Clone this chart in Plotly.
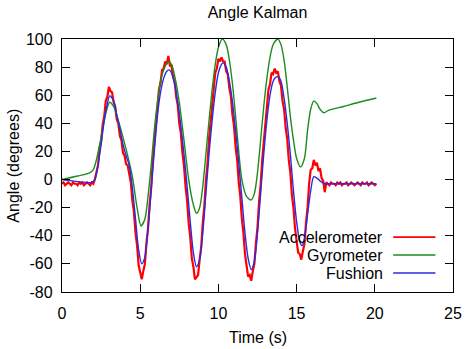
import plotly.graph_objects as go

# ---------------- data ----------------
title_text = "Angle Kalman"
series_names = ["Accelerometer", "Gyrometer", "Fushion"]

# Accelerometer (noisy), sampled every 0.1 s starting at t = 0
acc_step = 0.1
acc_v = [
    -3, -2, -4, -3, -2, -3, -4, -2, -3, -3, -4, -2, -3, -2, -4, -3, -2, -3, -4, -2, -3,   # 0.0-2.0
    0, 6, 10, 22, 27, 39, 45, 56, 59,                                                     # 2.1-2.9
    66, 63, 62, 55, 52, 43, 40, 31, 28, 19,                                               # 3.0-3.9
    17, 11, 10, 3, -2, -15, -23, -38, -47, -61,                                           # 4.0-4.9
    -66, -71, -65, -60, -45, -35, -18, -6, 13, 25,                                        # 5.0-5.9
    42, 51, 64, 69, 78, 79, 84, 82, 88, 81,                                               # 6.0-6.9
    81, 73, 70, 59, 53, 40, 33, 19, 10, -5,                                               # 7.0-7.9
    -15, -31, -41, -56, -62, -71, -69, -68, -57, -48,                                     # 8.0-8.9
    -31, -19, -1, 11, 29, 40, 56, 64, 76, 79,                                             # 9.0-9.9
    86, 84, 87, 84, 84, 77, 75, 65, 59, 46,                                               # 10.0-10.9
    38, 23, 14, -2, -12, -28, -38, -53, -60, -69,                                         # 11.0-11.9
    -68, -72, -65, -60, -45, -34, -16, -4, 14, 26,                                        # 12.0-12.9
    43, 51, 64, 68, 76, 75, 79, 76, 77, 70,                                               # 13.0-13.9
    67, 56, 50, 37, 29, 14, 5, -11, -20, -35,                                             # 14.0-14.9
    -42, -52, -53, -57, -51, -46, -31, -20, -3, 7,                                        # 15.0-15.9
    8, 14, 10, 12, 6, 8, 1, -1, -9, -2,                                                   # 16.0-16.9
    -3, -4, -2, -3, -3, -4, -2, -3, -2, -4,                                               # 17.0-17.9
    -3, -3, -2, -4, -3, -2, -3, -4, -3, -2,                                               # 18.0-18.9
    -3, -4, -2, -3, -3, -2, -4, -3, -2, -3,                                               # 19.0-19.9
    -4, -3,                                                                               # 20.0-20.1
]
acc_t = [round(i * acc_step, 1) for i in range(len(acc_v))]

# Gyrometer (integrated, drifting)
gyro_t = [0.0, 1.0, 1.8, 2.0, 2.2, 2.5, 2.8, 3.05, 3.3, 3.6, 3.9, 4.2, 4.5, 4.8, 5.05,
          5.3, 5.5, 5.7, 5.9, 6.1, 6.3, 6.5, 6.8, 7.0, 7.2, 7.5, 7.8, 8.1, 8.4, 8.6,
          8.8, 9.0, 9.2, 9.4, 9.6, 9.8, 10.0, 10.25, 10.5, 10.7, 10.9, 11.1, 11.3, 11.5,
          11.8, 12.1, 12.3, 12.5, 12.7, 12.9, 13.1, 13.3, 13.5, 13.8, 14.0, 14.2, 14.4,
          14.6, 14.8, 15.0, 15.25, 15.5, 15.7, 15.9, 16.1, 16.3, 16.5, 16.75, 17.0,
          18.0, 19.0, 20.1]
gyro_v = [0, 2.5, 5, 7, 14, 30, 47, 55, 52, 42, 30, 17, 2, -20, -33,
          -28, -12, 10, 35, 55, 70, 78, 84, 82, 74, 55, 28, 0, -18, -24,
          -20, -5, 18, 42, 64, 82, 94, 100, 96, 85, 68, 45, 20, 0,
          -12, -14.5, -10, 5, 28, 52, 72, 87, 96, 100, 96, 85, 66,
          45, 28, 15, 9, 15, 35, 50, 56, 54, 50, 47.5, 49,
          52, 55, 58]

# Fushion (Kalman output)
fus_t = [0.0, 0.5, 1.0, 1.5, 1.9, 2.1, 2.3, 2.5, 2.7, 2.9, 3.05, 3.3, 3.5, 3.7, 3.9,
         4.1, 4.3, 4.5, 4.7, 4.9, 5.1, 5.3, 5.5, 5.7, 5.9, 6.1, 6.3, 6.5, 6.7, 6.85,
         7.0, 7.2, 7.4, 7.6, 7.8, 8.0, 8.2, 8.4, 8.6, 8.8, 9.0, 9.2, 9.4, 9.6, 9.8,
         10.0, 10.2, 10.3, 10.5, 10.7, 10.9, 11.1, 11.3, 11.5, 11.7, 11.9, 12.1, 12.3,
         12.5, 12.7, 12.9, 13.1, 13.3, 13.5, 13.7, 13.85, 14.0, 14.2, 14.4, 14.6, 14.8,
         15.0, 15.2, 15.35, 15.5, 15.7, 15.9, 16.1, 16.3, 16.5, 16.8, 17.5, 18.5, 19.5, 20.1]
fus_v = [0, -0.8, -1.5, -2, -2, 0, 10, 25, 42, 54, 59.5, 56, 46, 36, 25,
         17, 10, -6, -28, -50, -60, -55, -35, -8, 20, 45, 62, 72, 77, 78,
         76, 68, 55, 38, 18, -5, -30, -52, -62, -57, -38, -10, 18, 42, 62,
         76, 82, 83, 80, 70, 55, 35, 12, -13, -38, -56, -64, -58,
         -38, -10, 18, 42, 60, 70, 73, 73, 70, 58, 40, 18, -8,
         -30, -44, -47, -42, -25, -8, 2, 1, -1, -3, -3, -3, -3, -3]

x_ticks = [0, 5, 10, 15, 20, 25]
y_ticks = [-80, -60, -40, -20, 0, 20, 40, 60, 80, 100]
y_tick_text = ["-80", "-60", "-40", "-20", "0", "20", "40", "60", "80", "100"]
x_label = "Time (s)"
y_label = "Angle (degrees)"

colors = ["#ff0000", "#1c8c1c", "#2a2ae6"]

# ---------------- figure ----------------
FONT = "Liberation Sans, Arial, sans-serif"
FS = 16

fig = go.Figure()
fig.add_trace(go.Scatter(x=acc_t, y=acc_v, mode="lines", name=series_names[0],
                         line=dict(color=colors[0], width=2.2), showlegend=False))
fig.add_trace(go.Scatter(x=gyro_t, y=gyro_v, mode="lines", name=series_names[1],
                         line=dict(color=colors[1], width=1.4, shape="spline", smoothing=0.8),
                         showlegend=False))
fig.add_trace(go.Scatter(x=fus_t, y=fus_v, mode="lines", name=series_names[2],
                         line=dict(color=colors[2], width=1.4, shape="spline", smoothing=0.8),
                         showlegend=False))

axis_common = dict(
    showline=True, linecolor="black", linewidth=1.3, mirror="ticks",
    ticks="inside", ticklen=8, tickwidth=1, tickcolor="black",
    showgrid=False, zeroline=False,
    tickfont=dict(family=FONT, size=FS, color="black"),
)
fig.update_xaxes(range=[0, 25], tickvals=x_ticks, ticktext=[str(v) for v in x_ticks],
                 ticklabelstandoff=7, **axis_common)
fig.update_yaxes(range=[-80, 100], tickvals=y_ticks, ticktext=y_tick_text,
                 ticklabelstandoff=5, **axis_common)

# gnuplot-style key: text right-aligned, sample line to its right
key_y = [0.217, 0.146, 0.075]
for name, col, ky in zip(series_names, colors, key_y):
    fig.add_annotation(xref="paper", yref="paper", x=0.826, y=ky, text=name,
                       showarrow=False, xanchor="right", yanchor="middle",
                       font=dict(family=FONT, size=FS, color="black"))
    fig.add_shape(type="line", xref="paper", yref="paper", x0=0.847, x1=0.955,
                  y0=ky, y1=ky, line=dict(color=col, width=1.6))

fig.add_annotation(xref="paper", yref="paper", x=0.5, y=-0.178, text=x_label,
                   showarrow=False, xanchor="center", yanchor="middle",
                   font=dict(family=FONT, size=FS, color="black"))
fig.add_annotation(xref="paper", yref="paper", x=-0.125, y=0.5, text=y_label,
                   textangle=-90, showarrow=False, xanchor="center", yanchor="middle",
                   font=dict(family=FONT, size=FS, color="black"))

fig.update_layout(
    width=474, height=349,
    margin=dict(l=62, r=14, t=39, b=57),
    paper_bgcolor="white", plot_bgcolor="white",
    title=dict(text=title_text, x=0.5, xref="paper", y=1 - 12 / 349, yref="container",
               xanchor="center", yanchor="middle",
               font=dict(family=FONT, size=FS, color="black")),
    showlegend=False,
)

fig.write_html("out.html")
